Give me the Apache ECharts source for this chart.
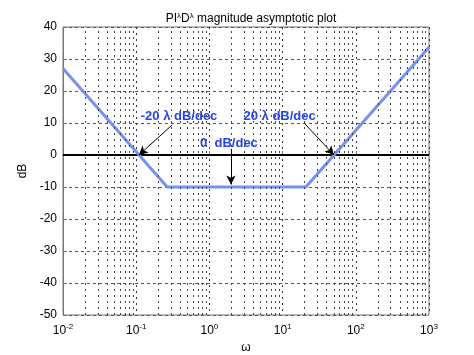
<!DOCTYPE html>
<html><head><meta charset="utf-8">
<script src="https://cdn.jsdelivr.net/npm/echarts@6/dist/echarts.min.js"></script>
<style>html,body{margin:0;padding:0;background:#fff}#c{width:474px;height:355px}</style>
</head><body><div id="c"></div>
<script>
// asymptotic magnitude (omega, dB)
const asymOmega = [0.01, 0.265, 20.8, 1000];
const asymDb = [27, -10, -10, 33.7];
const zeroOmega = [0.01, 1000];
const zeroDb = [0, 0];
const yTicks = [-50, -40, -30, -20, -10, 0, 10, 20, 30, 40];
const xDecades = [0.01, 0.1, 1, 10, 100, 1000];
const minorMult = [2, 3, 4, 5, 6, 7, 8, 9];
// annotation texts and anchors
const noteTexts = ['-20 \u03bb dB/dec', '20 \u03bb dB/dec', '0  dB/dec'];
const noteOmega = [0.385, 9.1, 1.85];
const noteDb = [12.2, 12.2, 3.7];
// arrows: start -> end
const arrowFrom = [[0.31, 9.4], [20.2, 9.7], [1.97, 1.9]];
const arrowTo = [[0.109, 0], [50.4, 0], [1.97, -9.2]];

const minorLines = [];
xDecades.slice(0, -1).forEach(d => minorMult.forEach(m => minorLines.push({xAxis: d * m})));

const font = 'Arial, "Liberation Sans", sans-serif';
const chart = echarts.init(document.getElementById('c'));
chart.setOption({
  animation: false,
  title: {
    text: 'PI{s|\u03bb}D{s|\u03bb} magnitude asymptotic plot',
    left: 246, top: 7, textAlign: 'center',
    textStyle: {fontFamily: font, fontSize: 12, fontWeight: 'normal', color: '#000',
      rich: {s: {fontSize: 8, verticalAlign: 'top', fontFamily: font, color: '#000', padding: [0, 0, 6, 0]}}}
  },
  grid: {left: 63, right: 45, top: 27, bottom: 40, show: true, borderColor: '#777', borderWidth: 1,
    containLabel: false, outerBoundsMode: 'none'},
  xAxis: {
    type: 'log', logBase: 10, min: 0.01, max: 1000,
    name: '\u03c9', nameLocation: 'middle', nameGap: 26,
    nameTextStyle: {fontFamily: font, fontSize: 12, color: '#000'},
    axisLine: {lineStyle: {color: '#777'}},
    axisTick: {inside: true, length: 4, lineStyle: {color: '#777'}},
    splitLine: {show: true, lineStyle: {color: '#333', type: [2, 4], width: 1}},
    axisLabel: {
      fontFamily: font, fontSize: 12, color: '#000', margin: 8,
      formatter: v => '{b|10}{s|' + Math.round(Math.log10(v)) + '}',
      rich: {b: {fontSize: 12, fontFamily: font, color: '#000'},
             s: {fontSize: 8, fontFamily: font, color: '#000', verticalAlign: 'top', padding: [0, 0, 8, 0]}}
    }
  },
  yAxis: {
    type: 'value', min: -50, max: 40, interval: 10,
    name: 'dB', nameLocation: 'middle', nameGap: 27, nameRotate: 90,
    nameTextStyle: {fontFamily: font, fontSize: 12, color: '#000'},
    axisLine: {show: true, lineStyle: {color: '#777'}},
    axisTick: {show: true, inside: true, length: 4, lineStyle: {color: '#777'}},
    splitLine: {show: true, lineStyle: {color: '#555', type: [3, 3], width: 1}},
    axisLabel: {fontFamily: font, fontSize: 12, color: '#000', margin: 6,
      formatter: v => yTicks.includes(v) ? String(v) : ''}
  },
  series: [
    {
      type: 'line', data: zeroOmega.map((w, i) => [w, zeroDb[i]]),
      showSymbol: false, silent: true, z: 3,
      lineStyle: {color: '#000', width: 2},
      markLine: {
        silent: true, symbol: 'none', animation: false,
        label: {show: false},
        lineStyle: {color: '#444', type: [2, 4], width: 1},
        data: minorLines
      }
    },
    {
      type: 'line', data: asymOmega.map((w, i) => [w, asymDb[i]]),
      showSymbol: false, silent: true, z: 4,
      lineStyle: {color: '#7592ef', width: 3}
    },
    {
      type: 'line', data: [], silent: true, z: 5,
      markLine: {
        silent: true, animation: false, symbol: ['none', 'arrow'], symbolSize: [7, 9],
        label: {show: false},
        lineStyle: {color: '#000', type: 'solid', width: 1},
        data: arrowFrom.map((f, i) => [{coord: f}, {coord: arrowTo[i]}])
      }
    },
    {
      type: 'scatter', silent: true, z: 6, symbolSize: 1,
      itemStyle: {color: 'rgba(0,0,0,0)'},
      data: noteTexts.map((t, i) => ({value: [noteOmega[i], noteDb[i]], name: t})),
      label: {show: true, position: 'inside', formatter: p => p.name,
        textBorderWidth: 0, textBorderColor: 'transparent', opacity: 1,
        fontFamily: font, fontSize: 13, fontWeight: 'bold', color: '#2444e4'}
    }
  ]
});
</script></body></html>
